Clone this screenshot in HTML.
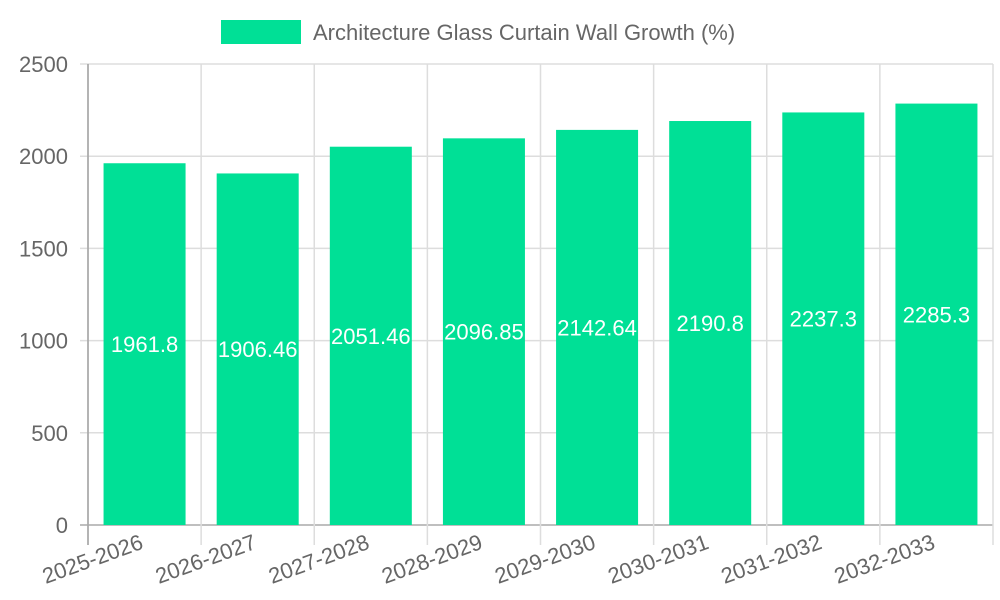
<!DOCTYPE html>
<html><head><meta charset="utf-8"><style>
html,body{margin:0;padding:0;background:#fff;}
svg{display:block;font-family:"Liberation Sans",sans-serif;}
</style></head><body>
<svg id="chart" width="1000" height="600">
<g>
<rect x="221" y="20" width="80" height="24" fill="#00e096"/>
<text x="313" y="40" font-size="22" fill="#666">Architecture Glass Curtain Wall Growth (%)</text>
</g>
<g id="grid"></g><g id="bars"></g><g id="axes"></g>
</svg>
<script>
const categories=["2025-2026","2026-2027","2027-2028","2028-2029","2029-2030","2030-2031","2031-2032","2032-2033"];
const values=[1961.8,1906.46,2051.46,2096.85,2142.64,2190.8,2237.3,2285.3];
const valueLabels=["1961.8","1906.46","2051.46","2096.85","2142.64","2190.8","2237.3","2285.3"];
const yTicks=[0,500,1000,1500,2000,2500];
const NS="http://www.w3.org/2000/svg";
const L=88,R=993,T=64,B=525,yMax=2500;
const y=v=>B-(v/yMax)*(B-T);
const cw=(R-L)/categories.length;
const x=i=>L+i*cw;
function mk(tag,attrs,parent){const e=document.createElementNS(NS,tag);for(const k in attrs)e.setAttribute(k,attrs[k]);document.getElementById(parent).appendChild(e);return e;}
yTicks.forEach(t=>{
 const l=mk('line',{x1:80,x2:R,y1:y(t),y2:y(t),stroke:t===0?'#aaa':'#ddd','stroke-width':1.5},'grid');
 
 
 const tx=mk('text',{x:68,y:y(t)+8,'text-anchor':'end','font-size':22,fill:'#666'},'axes');
 tx.textContent=t;
 
 
});
for(let i=0;i<=categories.length;i++){
 const l=mk('line',{x1:x(i),x2:x(i),y1:T,y2:545,stroke:i===0?'#aaa':'#ddd','stroke-width':1.5},'grid');
 
 
}
categories.forEach((c,i)=>{
 const bw=cw*0.725, bx=x(i)+(cw-bw)/2;
 const r=mk('rect',{x:bx,y:y(values[i]),width:bw,height:B-y(values[i]),fill:'#00e096'},'bars');
 
 
 const cx=x(i)+cw/2;
 const vl=mk('text',{x:cx,y:(y(values[i])+B)/2+8,'text-anchor':'middle','font-size':22,fill:'#fff'},'bars');
 vl.textContent=valueLabels[i];
 
 
 const xl=mk('text',{x:cx,y:548,'text-anchor':'end','font-size':22,fill:'#666',transform:`rotate(-20 ${cx} 548)`},'axes');
 xl.textContent=c;
 
 
});
const ax=mk('line',{x1:L,x2:L,y1:T,y2:545,stroke:'#aaa','stroke-width':1.5},'axes');


</script>
</body></html>
